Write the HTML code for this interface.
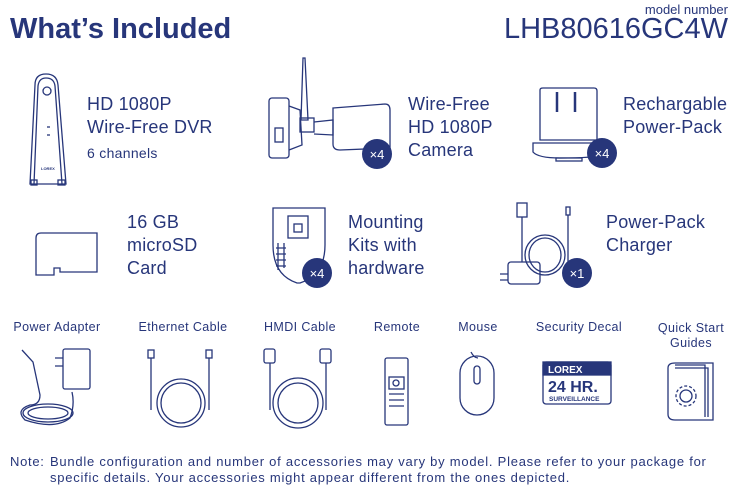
<!DOCTYPE html>
<html><head><meta charset="utf-8"><style>
html,body{margin:0;padding:0;background:#fff;}
body{width:734px;height:498px;position:relative;overflow:hidden;font-family:"Liberation Sans","DejaVu Sans",sans-serif;color:#27367a;}
.t{position:absolute;white-space:nowrap;line-height:1;}
.h{font-size:18px;line-height:23px;letter-spacing:0.2px;}
.s{font-size:12.5px;text-align:center;letter-spacing:0.4px;}
svg{position:absolute;left:0;top:0;}
</style></head><body>
<div class="t" style="left:10px;top:15px;font-size:29px;font-weight:bold;">What’s Included</div>
<div class="t" style="right:6px;top:3px;font-size:13px;">model number</div>
<div class="t" style="right:6px;top:15px;font-size:29px;">LHB80616GC4W</div>

<div class="t h" style="left:87px;top:93px;">HD 1080P<br>Wire-Free DVR</div>
<div class="t" style="left:87px;top:146px;font-size:14px;letter-spacing:0.3px;">6 channels</div>
<div class="t h" style="left:408px;top:93px;">Wire-Free<br>HD 1080P<br>Camera</div>
<div class="t h" style="left:623px;top:93px;">Rechargable<br>Power-Pack</div>
<div class="t h" style="left:127px;top:211px;">16 GB<br>microSD<br>Card</div>
<div class="t h" style="left:348px;top:211px;">Mounting<br>Kits with<br>hardware</div>
<div class="t h" style="left:606px;top:211px;">Power-Pack<br>Charger</div>

<div class="t s" style="left:7px;width:100px;top:321px;">Power Adapter</div>
<div class="t s" style="left:133px;width:100px;top:321px;">Ethernet Cable</div>
<div class="t s" style="left:250px;width:100px;top:321px;">HMDI Cable</div>
<div class="t s" style="left:357px;width:80px;top:321px;">Remote</div>
<div class="t s" style="left:438px;width:80px;top:321px;">Mouse</div>
<div class="t s" style="left:524px;width:110px;top:321px;">Security Decal</div>
<div class="t s" style="left:641px;width:100px;top:321px;line-height:15px;">Quick Start<br>Guides</div>

<div class="t" style="left:10px;top:454px;font-size:13px;line-height:16px;letter-spacing:0.7px;">Note:</div>
<div class="t" style="left:50px;top:454px;font-size:13px;line-height:16px;letter-spacing:0.75px;">Bundle configuration and number of accessories may vary by model. Please refer to your package for<br>specific details. Your accessories might appear different from the ones depicted.</div>

<svg width="734" height="498" viewBox="0 0 734 498" fill="none" stroke="#27367a" stroke-width="1.3">
<!-- DVR -->
<path d="M30 184 L35 85 Q35 74 46 74 Q57 74 58 85 L66 184 Z"/>
<path d="M34 184 L38 86 Q39 78 46 78 Q54 78 55 86 L62 184"/>
<circle cx="47" cy="91" r="4"/>
<line x1="47" y1="127" x2="50" y2="127"/><line x1="47" y1="135" x2="50" y2="135"/>
<text x="41" y="170" font-size="4" fill="#27367a" stroke="none" font-weight="bold">LOREX</text>
<rect x="31" y="180" width="6" height="5"/><rect x="58" y="180" width="7" height="5"/>
<!-- camera -->
<rect x="269" y="98" width="20" height="60" rx="3"/>
<path d="M289 106 L300 110 L302 145 L289 150"/>
<path d="M303 58 L305 58 L308 120 L301 120 Z"/>
<rect x="300" y="118" width="14" height="14"/>
<path d="M314 122 L333 120 L333 135 L314 134"/>
<path d="M333 108 L385 104 Q390 104 390 110 L390 148 L340 150 Q333 150 333 144 Z"/>
<rect x="275" y="128" width="8" height="14"/>
<!-- power pack -->
<path d="M540 90 Q540 88 543 88 L594 88 Q597 88 597 91 L597 140 L540 140 Z"/>
<line x1="557" y1="92" x2="557" y2="112" stroke-width="2.5"/><line x1="575" y1="92" x2="575" y2="112" stroke-width="2.5"/>
<path d="M533 143 L605 143 L600 155 Q595 158 560 158 Q538 158 533 152 Z"/>
<rect x="556" y="158" width="26" height="3"/>
<!-- microSD -->
<path d="M36 238 Q36 233 41 233 L97 233 L97 272 L60 272 L60 268 L54 268 L54 275 L36 275 Z"/>
<!-- mount -->
<path d="M273 208 L325 208 L325 245 Q325 275 300 283 L297 283 Q273 275 273 245 Z"/>
<rect x="288" y="216" width="20" height="22"/><rect x="294" y="224" width="8" height="8"/>
<path d="M278 243 L278 270 M284 243 L284 268 M276 248 L286 248 M276 254 L286 254 M276 260 L286 260 M276 266 L286 266"/>
<!-- charger -->
<rect x="517" y="203" width="10" height="14"/><line x1="522" y1="217" x2="522" y2="262"/>
<rect x="566" y="207" width="4" height="8"/><line x1="568" y1="215" x2="568" y2="270"/>
<ellipse cx="545" cy="255" rx="20" ry="20"/><ellipse cx="545" cy="255" rx="16" ry="17"/>
<rect x="508" y="262" width="32" height="22" rx="3"/>
<path d="M500 274 L508 274 M500 280 L508 280"/>
<!-- badges -->
<g fill="#27367a" stroke="none">
<circle cx="377" cy="154" r="15"/><circle cx="602" cy="153" r="15"/>
<circle cx="317" cy="273" r="15"/><circle cx="577" cy="273" r="15"/>
</g>
<g fill="#fff" stroke="none" font-size="13" text-anchor="middle" font-family="Liberation Sans,sans-serif">
<text x="377" y="159">×4</text><text x="602" y="158">×4</text>
<text x="317" y="278">×4</text><text x="577" y="278">×1</text>
</g>
<!-- power adapter -->
<path d="M22 350 L33 362 L40 395 Q40 405 30 405 Q15 410 25 420 Q55 430 70 418 Q75 405 72 392"/>
<ellipse cx="48" cy="413" rx="25" ry="9"/><ellipse cx="48" cy="413" rx="20" ry="6"/>
<rect x="63" y="349" width="27" height="40" rx="2"/>
<path d="M55 358 L63 358 M55 366 L63 366"/>
<!-- ethernet -->
<rect x="148" y="350" width="6" height="8"/><rect x="206" y="350" width="6" height="8"/>
<line x1="151" y1="358" x2="151" y2="410"/><line x1="209" y1="358" x2="209" y2="410"/>
<circle cx="181" cy="403" r="24"/><circle cx="181" cy="403" r="20"/>
<!-- hdmi -->
<rect x="264" y="349" width="11" height="14" rx="2"/><rect x="320" y="349" width="11" height="14" rx="2"/>
<line x1="270" y1="363" x2="270" y2="410"/><line x1="326" y1="363" x2="326" y2="410"/>
<circle cx="298" cy="403" r="25"/><circle cx="298" cy="403" r="20"/>
<!-- remote -->
<rect x="385" y="358" width="23" height="67" rx="2"/>
<rect x="389" y="377" width="15" height="12"/><circle cx="396" cy="383" r="3"/>
<path d="M389 394 H404 M389 400 H404 M389 406 H404"/>
<!-- mouse -->
<path d="M471 352 Q474 358 478 358"/>
<rect x="460" y="356" width="34" height="59" rx="17"/>
<rect x="474" y="366" width="6" height="18" rx="3"/>
<!-- decal -->
<rect x="543" y="362" width="68" height="42" rx="3"/>
<rect x="543" y="362" width="68" height="13" fill="#27367a"/>
<text x="548" y="373" font-size="10" font-weight="bold" fill="#fff" stroke="none" font-family="Liberation Sans,sans-serif">LOREX</text>
<text x="548" y="392" font-size="16" font-weight="bold" fill="#27367a" stroke="none" font-family="Liberation Sans,sans-serif">24 HR.</text>
<text x="549" y="401" font-size="6.5" font-weight="bold" fill="#27367a" stroke="none" font-family="Liberation Sans,sans-serif">SURVEILLANCE</text>
<!-- book -->
<path d="M668 368 Q668 363 675 363 L713 363 L713 420 L675 420 Q668 420 668 414 Z"/>
<path d="M675 365 L705 365 L705 417 M675 368 L708 368 L708 417"/>
<circle cx="686" cy="396" r="6"/><circle cx="686" cy="396" r="10" stroke-dasharray="3 2"/>
</svg>
</body></html>
